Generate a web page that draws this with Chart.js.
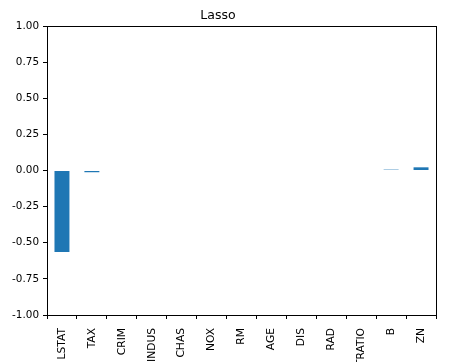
<!DOCTYPE html>
<html lang="en">
<head>
    <meta charset="UTF-8">
    <title>Lasso</title>
    <script src="https://cdn.jsdelivr.net/npm/chart.js"></script>
    <style>
        body {
            margin: 0;
            background-color: #ffffff;
            overflow: hidden;
        }
    </style>
</head>
<body>

<canvas id="lassoChart" width="474" height="362"></canvas>

<script>
// coeficientes
const features = ['LSTAT', 'TAX', 'CRIM', 'INDUS', 'CHAS', 'NOX', 'RM', 'AGE', 'DIS', 'RAD', 'PTRATIO', 'B', 'ZN'];
const coefs = [-0.564, -0.012, 0, 0, 0, 0, 0, 0, 0, 0, 0, 0.006, 0.022];
const yTicks = [-1, -0.75, -0.5, -0.25, 0, 0.25, 0.5, 0.75, 1];

// marco completo alrededor del area del grafico
const boxPlugin = {
    id: 'box',
    afterDraw(chart) {
        const a = chart.chartArea;
        const ctx = chart.ctx;
        ctx.save();
        ctx.strokeStyle = '#000';
        ctx.lineWidth = 1;
        ctx.strokeRect(Math.round(a.left) + 0.5, Math.round(a.top) + 0.5,
            Math.round(a.right - a.left), Math.round(a.bottom - a.top));
        ctx.restore();
    }
};

Chart.defaults.font.family = 'DejaVu Sans';
Chart.defaults.color = '#000';

new Chart(document.getElementById('lassoChart'), {
    type: 'bar',
    data: {
        labels: features,
        datasets: [{
            data: coefs,
            backgroundColor: '#1f77b4',
            barPercentage: 0.5,
            categoryPercentage: 1.0
        }]
    },
    options: {
        responsive: false,
        animation: false,
        layout: { padding: { left: 0, right: 38, top: 0, bottom: 0 } },
        plugins: {
            legend: { display: false },
            tooltip: { enabled: false },
            title: {
                display: true,
                text: 'Lasso',
                font: { size: 12.5, weight: 'normal', lineHeight: 1.2 },
                padding: { top: 8, bottom: 3 }
            }
        },
        scales: {
            x: {
                grid: { drawOnChartArea: false, tickLength: 4, tickColor: '#000' },
                border: { display: true, color: '#000' },
                ticks: { minRotation: 90, maxRotation: 90, autoSkip: false, padding: 9, font: { size: 10.7 } },
                afterFit(scale) { scale.height = 47; }
            },
            y: {
                min: -1,
                max: 1,
                afterBuildTicks(scale) { scale.ticks = yTicks.map(v => ({ value: v })); },
                grid: { drawOnChartArea: false, tickLength: 4, tickColor: '#000' },
                border: { display: true, color: '#000' },
                ticks: {
                    padding: 4,
                    font: { size: 10.4 },
                    callback: v => v.toFixed(2)
                },
                afterFit(scale) { scale.width = 47; }
            }
        }
    },
    plugins: [boxPlugin]
});
</script>

</body>
</html>
